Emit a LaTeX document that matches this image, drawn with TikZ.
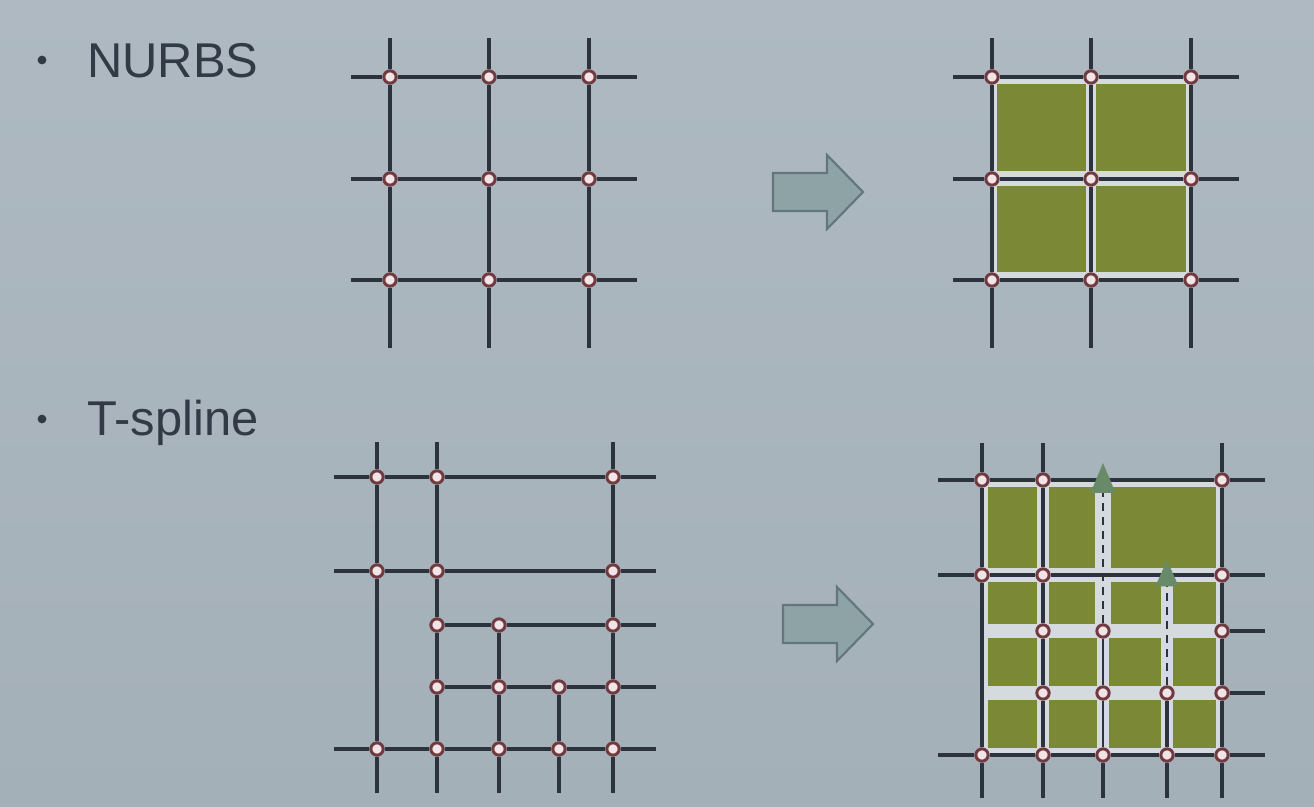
\documentclass[tikz,border=0pt]{standalone}
\usepackage{fontspec}
\setmainfont{Liberation Sans}
\usetikzlibrary{calc}
\usetikzlibrary{arrows.meta}
\usepackage{xcolor}

\definecolor{slide}{RGB}{164,176,184}
\definecolor{slidetop}{RGB}{174,185,193}
\definecolor{meshcol}{RGB}{44,51,60}
\definecolor{ring}{RGB}{112,58,64}
\definecolor{cpcore}{RGB}{240,228,230}
\definecolor{olive}{RGB}{123,136,54}
\definecolor{gapcol}{RGB}{212,218,222}
\definecolor{ink}{RGB}{50,58,70}
\definecolor{blockfill}{RGB}{142,163,166}
\definecolor{blockedge}{RGB}{98,118,124}
\definecolor{tipgreen}{RGB}{104,138,104}

\begin{document}
\begin{tikzpicture}[x=0.02cm, y=-0.02cm,
cp/.style = {circle, draw=ring, fill=cpcore, line width=1.7pt,
            minimum size=#1, inner sep=0pt},
cp/.default = 7pt,  % control point
meshline/.style = {meshcol, line width=2.4pt},
soft/.style = {gapcol, line width=3pt},
extline/.style = {meshcol, line width=0.9pt, dash pattern=on 4.5pt off 3.5pt},
blockarrow/.style = {fill=blockfill, draw=blockedge, line width=1.2pt},
heading/.style = {ink, anchor=base west, inner sep=0pt,
            font=\fontsize{27.8}{33}\selectfont},
dotmark/.style = {circle, fill=ink, minimum size=5pt, inner sep=0pt}
                ]
    \useasboundingbox (0,0) rectangle (1314,806);
    \shade[top color=slidetop, bottom color=slide] (0,0) rectangle (1314,806);

    % NURBS, both panels
    \foreach \p/\dx in {n/0, m/602}{
        \foreach \i/\x in {1/390, 2/489, 3/589}{
            \coordinate (\p c\i) at (\x+\dx,38);
            \coordinate (\p b\i) at (\x+\dx,348);
        }
        \foreach \j/\y in {1/77, 2/179, 3/280}{
            \coordinate (\p r\j) at (351+\dx,\y);
            \coordinate (\p e\j) at (637+\dx,\y);
        }
    }

    % T-spline, left
    \foreach \i/\x in {1/377, 2/437, 3/499, 4/559, 5/613}{
        \coordinate (tc\i) at (\x,442);
        \coordinate (tb\i) at (\x,793);
    }
    \foreach \j/\y in {1/477, 2/571, 3/625, 4/687, 5/749}{
        \coordinate (tr\j) at (334,\y);
        \coordinate (te\j) at (656,\y);
    }
    % T-spline, right
    \foreach \i/\x in {1/982, 2/1043, 3/1103, 4/1167, 5/1222}{
        \coordinate (rc\i) at (\x,443);
        \coordinate (rb\i) at (\x,798);
    }
    \foreach \j/\y in {1/480, 2/575, 3/631, 4/693, 5/755}{
        \coordinate (rr\j) at (938,\y);
        \coordinate (re\j) at (1265,\y);
    }

    % patches
    \fill[gapcol] (mc1 |- mr1) rectangle (mc3 |- mr3);
    \foreach \a/\aa/\b/\bb in {1/2/1/2, 2/3/1/2, 1/2/2/3, 2/3/2/3}
        \fill[olive] ($(mc\a |- mr\b)+(5,7)$) rectangle ($(mc\aa |- mr\bb)+(-5,-8)$);
    \fill[gapcol] (rc1 |- rr1) rectangle (rc5 |- rr5);
    \foreach \a/\aa/\b/\bb in {1/2/1/2, 2/3/1/2, 3/5/1/2,
                               1/2/2/3, 2/3/2/3, 3/4/2/3, 4/5/2/3,
                               1/2/3/4, 2/3/3/4, 3/4/3/4, 4/5/3/4,
                               1/2/4/5, 2/3/4/5, 3/4/4/5, 4/5/4/5}
        \fill[olive] ($(rc\a |- rr\b)+(6,7)$) rectangle ($(rc\aa |- rr\bb)+(-6,-7)$);
    \draw[gapcol, line width=9pt] (rc3 |- rr3) -- (rc3 |- rr1);
    \draw[gapcol, line width=7pt] (rc4 |- rr4) -- (rc4 |- rr2);

    % NURBS mesh
    \foreach \p in {n,m}{
        \foreach \j in {1,2,3}
            \foreach \i in {1,2,3}
                \node[cp] (\p\j\i) at (\p c\i |- \p r\j) {};
        \foreach \k in {1,2,3}{
            \draw[meshline] (\p r\k) -- (\p\k1) -- (\p\k2) -- (\p\k3) -- (\p e\k);
            \draw[meshline] (\p c\k) -- (\p1\k) -- (\p2\k) -- (\p3\k) -- (\p b\k);
        }
    }

    % T-spline mesh
    \foreach \p in {t,r}{
        \foreach \j/\i in {1/1,1/2,1/5, 2/1,2/2,2/5, 3/2,3/3,3/5, 4/2,4/3,4/4,4/5,
                           5/1,5/2,5/3,5/4,5/5}
            \node[cp] (\p\j\i) at (\p c\i |- \p r\j) {};
        \draw[meshline] (\p r1) -- (\p11) -- (\p12) -- (\p15) -- (\p e1);
        \draw[meshline] (\p r2) -- (\p21) -- (\p22) -- (\p25) -- (\p e2);
        \draw[meshline] (\p32) -- (\p33) -- (\p35) -- (\p e3);
        \draw[meshline] (\p42) -- (\p43) -- (\p44) -- (\p45) -- (\p e4);
        \draw[meshline] (\p r5) -- (\p51) -- (\p52) -- (\p53) -- (\p54) -- (\p55) -- (\p e5);
        \draw[meshline] (\p c1) -- (\p11) -- (\p21) -- (\p51) -- (\p b1);
        \draw[meshline] (\p c2) -- (\p12) -- (\p22) -- (\p32) -- (\p42) -- (\p52) -- (\p b2);
        \draw[meshline] (\p33) -- (\p43) -- (\p53) -- (\p b3);
        \draw[meshline] (\p44) -- (\p54) -- (\p b4);
        \draw[meshline] (\p c5) -- (\p15) -- (\p25) -- (\p35) -- (\p45) -- (\p55) -- (\p b5);
    }
    % inner lines of the refined mesh
    \draw[soft] (r32) -- (r33) -- (r35);
    \draw[soft] (r42) -- (r43) -- (r44) -- (r45);
    \draw[soft] (r33) -- (r43) -- (r53);
    \draw[meshcol, line width=0.6pt] (r33) -- (r43) -- (r53);

    % extended edges
    \coordinate (k1) at ($(rc3 |- rr1)+(0,-17)$);
    \coordinate (k2) at ($(rc4 |- rr2)+(0,-15)$);
    \draw[extline, -{Triangle[length=17pt, width=14pt, color=tipgreen]}] (r33) -- (k1);
    \draw[extline, -{Triangle[length=15pt, width=13pt, color=tipgreen]}] (r44) -- (k2);

    % block arrows
    \foreach \x/\y/\v in {773/192/nurbsstep, 783/624/tsplinestep}{
        \coordinate (\v) at (\x,\y);
        \draw[blockarrow] (\v) ++(0,-19) -- ++(54,0) -- ++(0,-18) -- ++(36,37)
            -- ++(-36,37) -- ++(0,-18) -- ++(-54,0) -- cycle;
    }

    \node[dotmark] (dot1) at (42,60) {};
    \node[heading] (nurbs) at (87,77) {NURBS};
    \node[dotmark] (dot2) at (42,419) {};
    \node[heading] (tspline) at (87,435) {T-spline};
\end{tikzpicture}
\end{document}
